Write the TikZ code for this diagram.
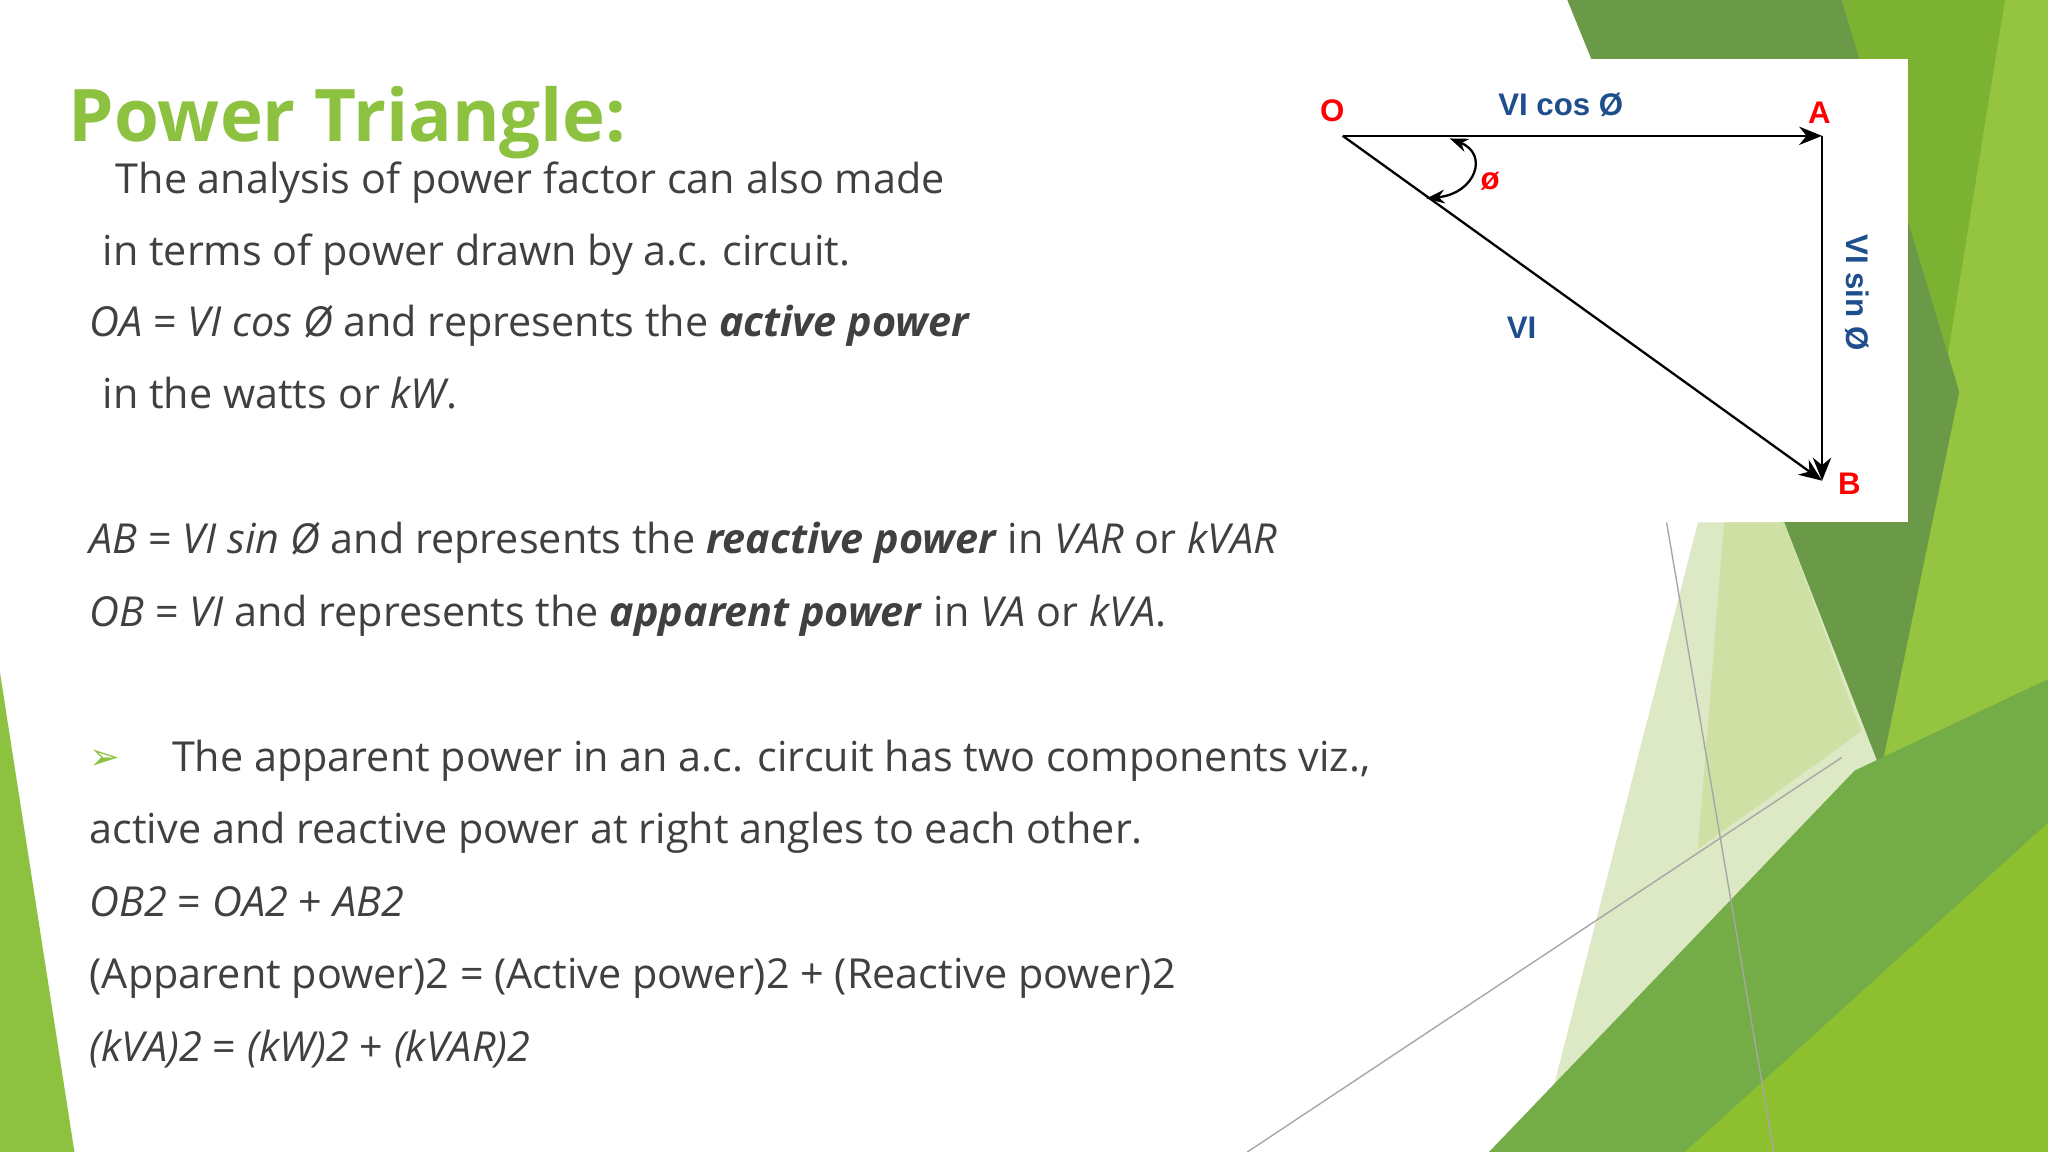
\documentclass[tikz,border=0pt]{standalone}
\usepackage{fontspec}
\setmainfont{Open Sans}
\newfontfamily\dv{DejaVu Sans}
\newfontfamily\lib{Liberation Sans}
\usetikzlibrary{arrows.meta}
\definecolor{tgreen}{HTML}{8CC23F}
\definecolor{txt}{HTML}{404040}
\definecolor{dkg}{HTML}{6A9A48}
\definecolor{mdg}{HTML}{7CB232}
\definecolor{ltg}{HTML}{94C440}
\definecolor{pale}{HTML}{DDE8C4}
\definecolor{pale2}{HTML}{CFE0A5}
\definecolor{band}{HTML}{74AC48}
\definecolor{bright}{HTML}{8EBF2E}
\definecolor{lblue}{HTML}{1F4E8C}
\tikzset{
  body/.style={anchor=base west, text=txt, font=\fontsize{9pt}{11pt}\selectfont, inner sep=0pt},
  lbl/.style={font=\lib\bfseries\fontsize{6.8pt}{8pt}\selectfont, inner sep=1pt},
  pt/.style={lbl, text=red},
  vec/.style={draw=black, line width=0.5pt, -{Stealth[length=5pt,width=4pt]}},
}
\begin{document}
\begin{tikzpicture}[x=0.01cm,y=-0.01cm]
\useasboundingbox (0,0) rectangle (1568,882);
\fill[white] (0,0) rectangle (1568,882);
% background shapes
\fill[ltg] (1408,0) -- (1568,0) -- (1568,882) -- (1150,882) -- (1440,590) -- cycle;
\fill[mdg] (1408,0) -- (1535,0) -- (1440,590) -- (1500,300) -- cycle;
\fill[dkg] (1200,0) -- (1410,0) -- (1500,300) -- (1440,590) -- cycle;
\fill[pale] (1300,400) -- (1366,400) -- (1440,590) -- (1190,830) -- cycle;
\fill[pale2] (1320,400) -- (1366,400) -- (1425,560) -- (1300,650) -- cycle;
\fill[band] (1140,882) -- (1420,590) -- (1568,520) -- (1568,882) -- cycle;
\fill[bright] (1290,882) -- (1568,630) -- (1568,882) -- cycle;
\fill[tgreen] (0,515) -- (57,882) -- (0,882) -- cycle;
\draw[gray!70, line width=0.3pt] (1276,400) -- (1358,882);
\draw[gray!70, line width=0.3pt] (955,882) -- (1410,580);
% figure box
\fill[white] (980,45) rectangle (1461,400);
\coordinate (O) at (1028,104);
\coordinate (A) at (1395,104);
\coordinate (B) at (1395,368);
\draw[vec] (O) -- (A);
\draw[vec] (A) -- (B);
\draw[vec] (O) -- (B);
\coordinate (a1) at (1110,106);
\coordinate (a2) at (1092,152);
\draw[line width=0.5pt, {Stealth[length=4pt,width=3pt]}-{Stealth[length=4pt,width=3pt]}] (a1) .. controls (1140,118) and (1130,148) .. (a2);
\node[pt] (lo) at (1020,85) {O};
\node[pt] (la) at (1393,86) {A};
\node[pt] (lb) at (1416,370) {B};
\node[lbl, text=red] (phi) at (1141,139) {ø};
\node[lbl, text=lblue] (oa) at (1195,80) {VI cos Ø};
\node[lbl, text=lblue] (ob) at (1165,251) {VI};
\node[lbl, text=lblue, rotate=-90] (ab) at (1422,224) {VI sin Ø};
% title
\node[anchor=base west, inner sep=0pt, text=tgreen, font=\bfseries\fontsize{15.8pt}{18pt}\selectfont] (title) at (52,108) {Power Triangle:};
% body
\node[body] (l1) at (88,148) {The analysis of power factor can also made};
\node[body] (l2) at (78,203) {in terms of power drawn by a.c. circuit.};
\node[body] (l3) at (68,258) {\textit{OA} = \textit{VI cos Ø} and represents the \textbf{\textit{active power}}};
\node[body] (l4) at (78,313) {in the watts or \textit{kW}.};
\node[body] (l5) at (68,424) {\textit{AB} = \textit{VI sin Ø} and represents the \textbf{\textit{reactive power}} in \textit{VAR} or \textit{kVAR}};
\node[body] (l6) at (68,480) {\textit{OB} = \textit{VI} and represents the \textbf{\textit{apparent power}} in \textit{VA} or \textit{kVA}.};
\node[body, text=tgreen, font=\dv\fontsize{8pt}{10pt}\selectfont] (bul) at (68,589) {➢};
\node[body] (l7) at (131,591) {The apparent power in an a.c. circuit has two components viz.,};
\node[body] (l8) at (68,646) {active and reactive power at right angles to each other.};
\node[body] (l9) at (68,702) {\textit{OB2} = \textit{OA2} + \textit{AB2}};
\node[body] (l10) at (68,757) {(Apparent power)2 = (Active power)2 + (Reactive power)2};
\node[body] (l11) at (68,813) {\textit{(kVA)2} = \textit{(kW)2} + \textit{(kVAR)2}};
\end{tikzpicture}
\end{document}
